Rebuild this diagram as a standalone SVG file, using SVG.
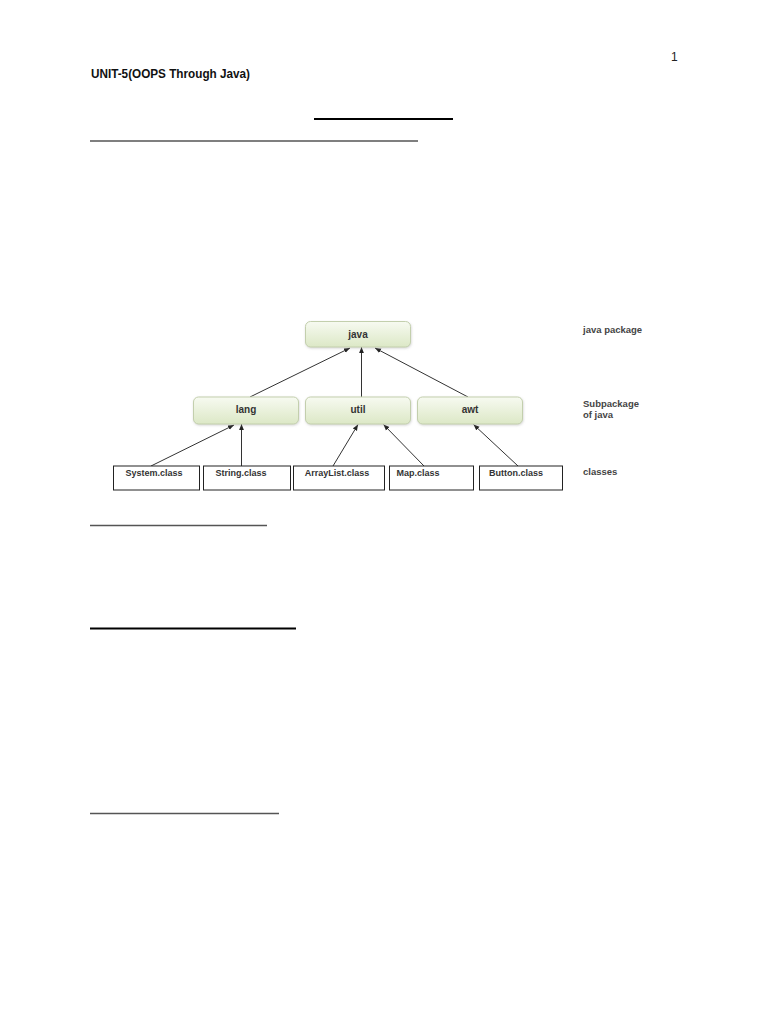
<svg xmlns="http://www.w3.org/2000/svg" width="768" height="1024" viewBox="0 0 768 1024">
<defs>
<linearGradient id="g" x1="0" y1="0" x2="0" y2="1">
<stop offset="0" stop-color="#f7faf1"/>
<stop offset="1" stop-color="#dce8c6"/>
</linearGradient>
<marker id="ah" viewBox="0 0 10 10" refX="10" refY="5" markerWidth="6" markerHeight="6" orient="auto" markerUnits="userSpaceOnUse">
<path d="M0,1 L10,5 L0,9 z" fill="#222"/>
</marker>
<filter id="sh" x="-10%" y="-20%" width="120%" height="150%">
<feDropShadow dx="0.5" dy="1" stdDeviation="0.8" flood-color="#888" flood-opacity="0.35"/>
</filter>
</defs>
<style>
.hdr{font-family:"Liberation Sans",Arial,sans-serif;font-weight:bold;font-size:13px;fill:#111}
.pg{font-family:"Liberation Sans",Arial,sans-serif;font-size:12px;fill:#222}
.pkg{fill:url(#g);stroke:#c3cfad;stroke-width:1;filter:url(#sh)}
.pt{font-family:"Liberation Sans",Arial,sans-serif;font-weight:bold;font-size:10px;fill:#333;text-anchor:middle}
.cls{fill:#fff;stroke:#222;stroke-width:1}
.ct{font-family:"Liberation Sans",Arial,sans-serif;font-weight:bold;font-size:9px;fill:#333;text-anchor:middle}
.lbl{font-family:"Liberation Sans",Arial,sans-serif;font-weight:bold;font-size:9.5px;fill:#444}
.ed{stroke:#333;stroke-width:1;fill:none;marker-end:url(#ah)}
.rule{stroke:#555;stroke-width:1.4}
.rule2{stroke:#000;stroke-width:2.2}
</style>
<rect width="768" height="1024" fill="#fff"/>
<text class="pg" x="671" y="61">1</text>
<text class="hdr" x="91" y="78" textLength="159" lengthAdjust="spacingAndGlyphs">UNIT-5(OOPS Through Java)</text>
<line class="rule2" x1="314" y1="119" x2="453" y2="119"/>
<line class="rule" x1="90" y1="141" x2="418" y2="141"/>
<line class="rule" x1="90" y1="525.5" x2="267" y2="525.5"/>
<line class="rule2" x1="90" y1="628.5" x2="296" y2="628.5"/>
<line class="rule" x1="90" y1="813.5" x2="279" y2="813.5"/>
<g id="connectors">
<line class="ed" x1="250" y1="397" x2="350" y2="348"/>
<line class="ed" x1="361.5" y1="397" x2="361.5" y2="347"/>
<line class="ed" x1="468" y1="397" x2="375" y2="348"/>
<line class="ed" x1="151" y1="466" x2="234" y2="425"/>
<line class="ed" x1="241.5" y1="466" x2="241.5" y2="424"/>
<line class="ed" x1="333" y1="466" x2="358" y2="424.5"/>
<line class="ed" x1="424" y1="466" x2="383.5" y2="424.5"/>
<line class="ed" x1="518" y1="466" x2="473.5" y2="424.5"/>
</g>
<g id="java"><rect class="pkg" x="305.5" y="321.5" width="105" height="25.5" rx="5"/><text class="pt" x="358" y="337.5">java</text></g>
<g id="lang"><rect class="pkg" x="193.5" y="397" width="105" height="27" rx="5"/><text class="pt" x="246" y="413">lang</text></g>
<g id="util"><rect class="pkg" x="305.5" y="397" width="105" height="27" rx="5"/><text class="pt" x="358" y="413">util</text></g>
<g id="awt"><rect class="pkg" x="417.5" y="397" width="105" height="27" rx="5"/><text class="pt" x="470" y="413">awt</text></g>
<g id="system"><rect class="cls" x="113.5" y="466" width="86" height="24"/><text class="ct" x="154" y="476">System.class</text></g>
<g id="string"><rect class="cls" x="203.5" y="466" width="87" height="24"/><text class="ct" x="241" y="476">String.class</text></g>
<g id="arraylist"><rect class="cls" x="293.5" y="466" width="91" height="24"/><text class="ct" x="337" y="476">ArrayList.class</text></g>
<g id="map"><rect class="cls" x="389.5" y="466" width="84" height="24"/><text class="ct" x="418" y="476">Map.class</text></g>
<g id="button"><rect class="cls" x="479.5" y="466" width="83" height="24"/><text class="ct" x="516" y="476">Button.class</text></g>
<text class="lbl" x="583" y="333">java package</text>
<text class="lbl" x="583" y="407">Subpackage</text>
<text class="lbl" x="583" y="418">of java</text>
<text class="lbl" x="583" y="475">classes</text>
</svg>
